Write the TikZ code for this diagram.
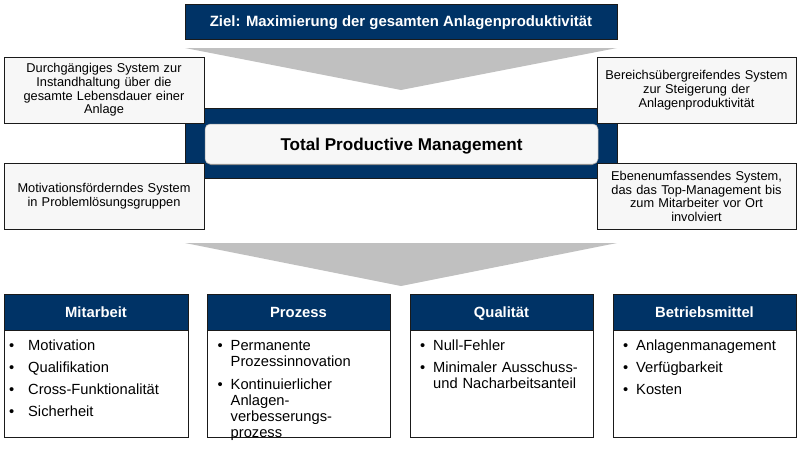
\documentclass[tikz,border=0pt]{standalone}
\usepackage{fontspec}
\setmainfont{Liberation Sans}
\definecolor{tpmblue}{HTML}{003366}
\definecolor{arrowgray}{HTML}{C0C0C0}
\definecolor{boxfill}{HTML}{F7F7F7}
\definecolor{edge}{HTML}{1A1A1A}
\newlength{\bulind}
\setlength{\bulind}{13pt}
\newcommand{\bitem}[1]{\par\noindent\makebox[\bulind][l]{\textbullet}\parbox[t]{\dimexpr\linewidth-\bulind\relax}{\raggedright\strut#1\strut}\par\vspace{6pt}}
\tikzset{
  bluebox/.style={draw=edge, line width=0.8pt, fill=tpmblue, inner sep=0pt},
  sidebox/.style={draw=edge, line width=0.8pt, fill=boxfill, inner sep=0pt,
    minimum width=200pt, minimum height=66pt, align=center, text width=194pt,
    font=\fontsize{12.8}{13.7}\selectfont},
  headbox/.style={draw=edge, line width=0.8pt, fill=tpmblue, text=white, inner sep=0pt,
    minimum width=183pt, minimum height=36pt, text height=10.6pt, text depth=0pt,
    font=\fontsize{14.8}{16}\selectfont\bfseries},
  bodybox/.style={draw=edge, line width=0.8pt, fill=white, inner sep=0pt,
    minimum width=183pt, minimum height=107pt},
  listtext/.style={anchor=north west, inner sep=0pt, align=left,
    font=\fontsize{14.7}{16}\selectfont},
  wedge/.style={fill=arrowgray, draw=none}
}
\begin{document}
\begin{tikzpicture}[x=1pt,y=-1pt]
\useasboundingbox (0,0) rectangle (803,453);
% wedges
\fill[wedge] (185,48) -- (617,48) -- (401,90) -- cycle;
\fill[wedge] (185,243) -- (617,243) -- (401,286) -- cycle;
% goal
\node[bluebox, minimum width=432pt, minimum height=35pt, text=white,
  text height=10.8pt, text depth=0pt,
  font=\fontsize{14.9}{16}\selectfont\bfseries] (goal) at (401,21.5)
  {Ziel: Maximierung der gesamten Anlagenproduktivität};
% band
\node[bluebox, minimum width=432pt, minimum height=70pt] (band) at (401,143) {};
\fill[black!55, rounded corners=5pt] (206,125) rectangle (597,165);
\node[fill=boxfill, draw=black!35, line width=0.5pt, rounded corners=5pt, inner sep=0pt,
  minimum width=393pt, minimum height=40pt, text height=12.3pt, text depth=0pt,
  font=\fontsize{17.1}{18}\selectfont\bfseries]
  (tpm) at (401.5,144) {Total Productive Management};
% side boxes
\node[sidebox] (l1) at (104,90) {Durchgängiges System zur\\Instandhaltung über die\\gesamte Lebensdauer einer\\Anlage};
\node[sidebox] (l2) at (104,196.5) {Motivationsförderndes System\\in Problemlösungsgruppen};
\node[sidebox, minimum width=199pt] (r1) at (696.5,90) {Bereichsübergreifendes System\\zur Steigerung der\\Anlagenproduktivität};
\node[sidebox, minimum width=199pt] (r2) at (696.5,196.5) {Ebenenumfassendes System,\\das das Top-Management bis\\zum Mitarbeiter vor Ort\\involviert};
% bottom columns
\node[headbox, minimum width=184pt] (h1) at (96,312) {Mitarbeit};
\node[bodybox, minimum width=184pt, anchor=north] (b1) at (96,330) {};
\node[headbox] (h2) at (298.5,312) {Prozess};
\node[bodybox, anchor=north] (b2) at (298.5,330) {};
\node[headbox] (h3) at (501.5,312) {Qualität};
\node[bodybox, anchor=north] (b3) at (501.5,330) {};
\node[headbox] (h4) at (704.5,312) {Betriebsmittel};
\node[bodybox, anchor=north] (b4) at (704.5,330) {};
\node[listtext, text width=172pt] (t1) at (9,334) {\setlength{\bulind}{19pt}%
  \bitem{Motivation}\bitem{Qualifikation}\bitem{Cross-Funktionalität}\bitem{Sicherheit}};
\node[listtext, text width=168pt] (t2) at (217.5,334) {%
  \bitem{Permanente\\Prozessinnovation}\bitem{Kontinuierlicher\\Anlagen-\\verbesserungs-\\prozess}};
\node[listtext, text width=168pt] (t3) at (420,334) {%
  \bitem{Null-Fehler}\bitem{Minimaler Ausschuss-\\und Nacharbeitsanteil}};
\node[listtext, text width=168pt] (t4) at (623,334) {%
  \bitem{Anlagenmanagement}\bitem{Verfügbarkeit}\bitem{Kosten}};
\end{tikzpicture}
\end{document}
